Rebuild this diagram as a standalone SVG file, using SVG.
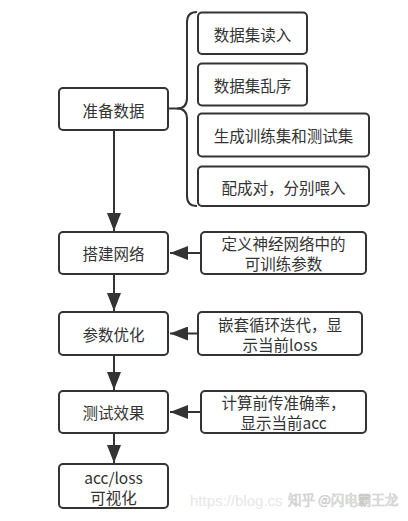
<svg xmlns="http://www.w3.org/2000/svg" width="408" height="521" viewBox="0 0 408 521">
<style>
.box{fill:#fff;stroke:#333;stroke-width:2}
.t{font-family:"Noto Sans CJK SC","Noto Sans",sans-serif;font-size:15.5px;fill:#333;text-anchor:middle;dominant-baseline:central}
.ln{fill:none;stroke:#333;stroke-width:2}
.wm{font-family:"Liberation Sans","Noto Sans CJK SC",sans-serif;font-size:15px;fill:#e6e6e6}
.wm2{font-family:"Noto Sans CJK SC",sans-serif;font-size:13.5px;fill:#f2f2f2;stroke:#c8c8c8;stroke-width:0.6}
</style>
<defs>
<marker id="ah" markerUnits="userSpaceOnUse" markerWidth="18" markerHeight="14" viewBox="0 0 18 14" refX="18" refY="7" orient="auto">
<path d="M0,0 L18,7 L0,14 Z" fill="#333"/>
</marker>
</defs>
<rect width="408" height="521" fill="#fff"/>
<g id="connectors">
<path class="ln" d="M168,108.5 L177,108.5 Q187,108.5 187,98 L187,22 Q187,12 197,12"/>
<path class="ln" d="M177,108.5 Q187,108.5 187,119 L187,196 Q187,206 197,206"/>
<path class="ln" d="M114,130 L114,231" marker-end="url(#ah)"/>
<path class="ln" d="M114,274 L114,311" marker-end="url(#ah)"/>
<path class="ln" d="M114,355 L114,390" marker-end="url(#ah)"/>
<path class="ln" d="M114,433 L114,463" marker-end="url(#ah)"/>
<path class="ln" d="M201,253 L170,253" marker-end="url(#ah)"/>
<path class="ln" d="M198,333.5 L170,333.5" marker-end="url(#ah)"/>
<path class="ln" d="M201,412 L170,412" marker-end="url(#ah)"/>
</g>
<g id="n1"><rect class="box" x="59" y="88" width="109" height="42" rx="4"/><text class="t" x="113.5" y="110">准备数据</text></g>
<g id="n1a"><rect class="box" x="198" y="12.5" width="109" height="41.5" rx="4"/><text class="t" x="252.5" y="34">数据集读入</text></g>
<g id="n1b"><rect class="box" x="198" y="63.5" width="109" height="42" rx="4"/><text class="t" x="252.5" y="85">数据集乱序</text></g>
<g id="n1c"><rect class="box" x="198" y="113.5" width="171" height="43" rx="4"/><text class="t" x="283.5" y="135">生成训练集和测试集</text></g>
<g id="n1d"><rect class="box" x="198" y="166.5" width="171" height="39.5" rx="4"/><text class="t" x="283.5" y="187">配成对，分别喂入</text></g>
<g id="n2"><rect class="box" x="59" y="232" width="109" height="42" rx="4"/><text class="t" x="113.5" y="253">搭建网络</text></g>
<g id="n2a"><rect class="box" x="201" y="232" width="165" height="42" rx="4"/><text class="t" x="283.5" y="243">定义神经网络中的</text><text class="t" x="283.5" y="263">可训练参数</text></g>
<g id="n3"><rect class="box" x="59" y="312" width="109" height="43" rx="4"/><text class="t" x="113.5" y="334">参数优化</text></g>
<g id="n3a"><rect class="box" x="198" y="312" width="164" height="43" rx="4"/><text class="t" x="280" y="323.5">嵌套循环迭代，显</text><text class="t" x="280" y="343.5">示当前loss</text></g>
<g id="n4"><rect class="box" x="59" y="391" width="109" height="42" rx="4"/><text class="t" x="113.5" y="412">测试效果</text></g>
<g id="n4a"><rect class="box" x="201" y="391" width="165" height="42" rx="4"/><text class="t" x="283.5" y="402">计算前传准确率，</text><text class="t" x="283.5" y="422">显示当前acc</text></g>
<g id="n5"><rect class="box" x="59" y="464" width="109" height="44" rx="4"/><text class="t" x="113.5" y="476.5">acc/loss</text><text class="t" x="113.5" y="496.5">可视化</text></g>
<text class="wm" x="190" y="506">https://blog.cs</text>
<text class="wm2" x="288" y="505">知乎 @闪电霸王龙</text>
</svg>
